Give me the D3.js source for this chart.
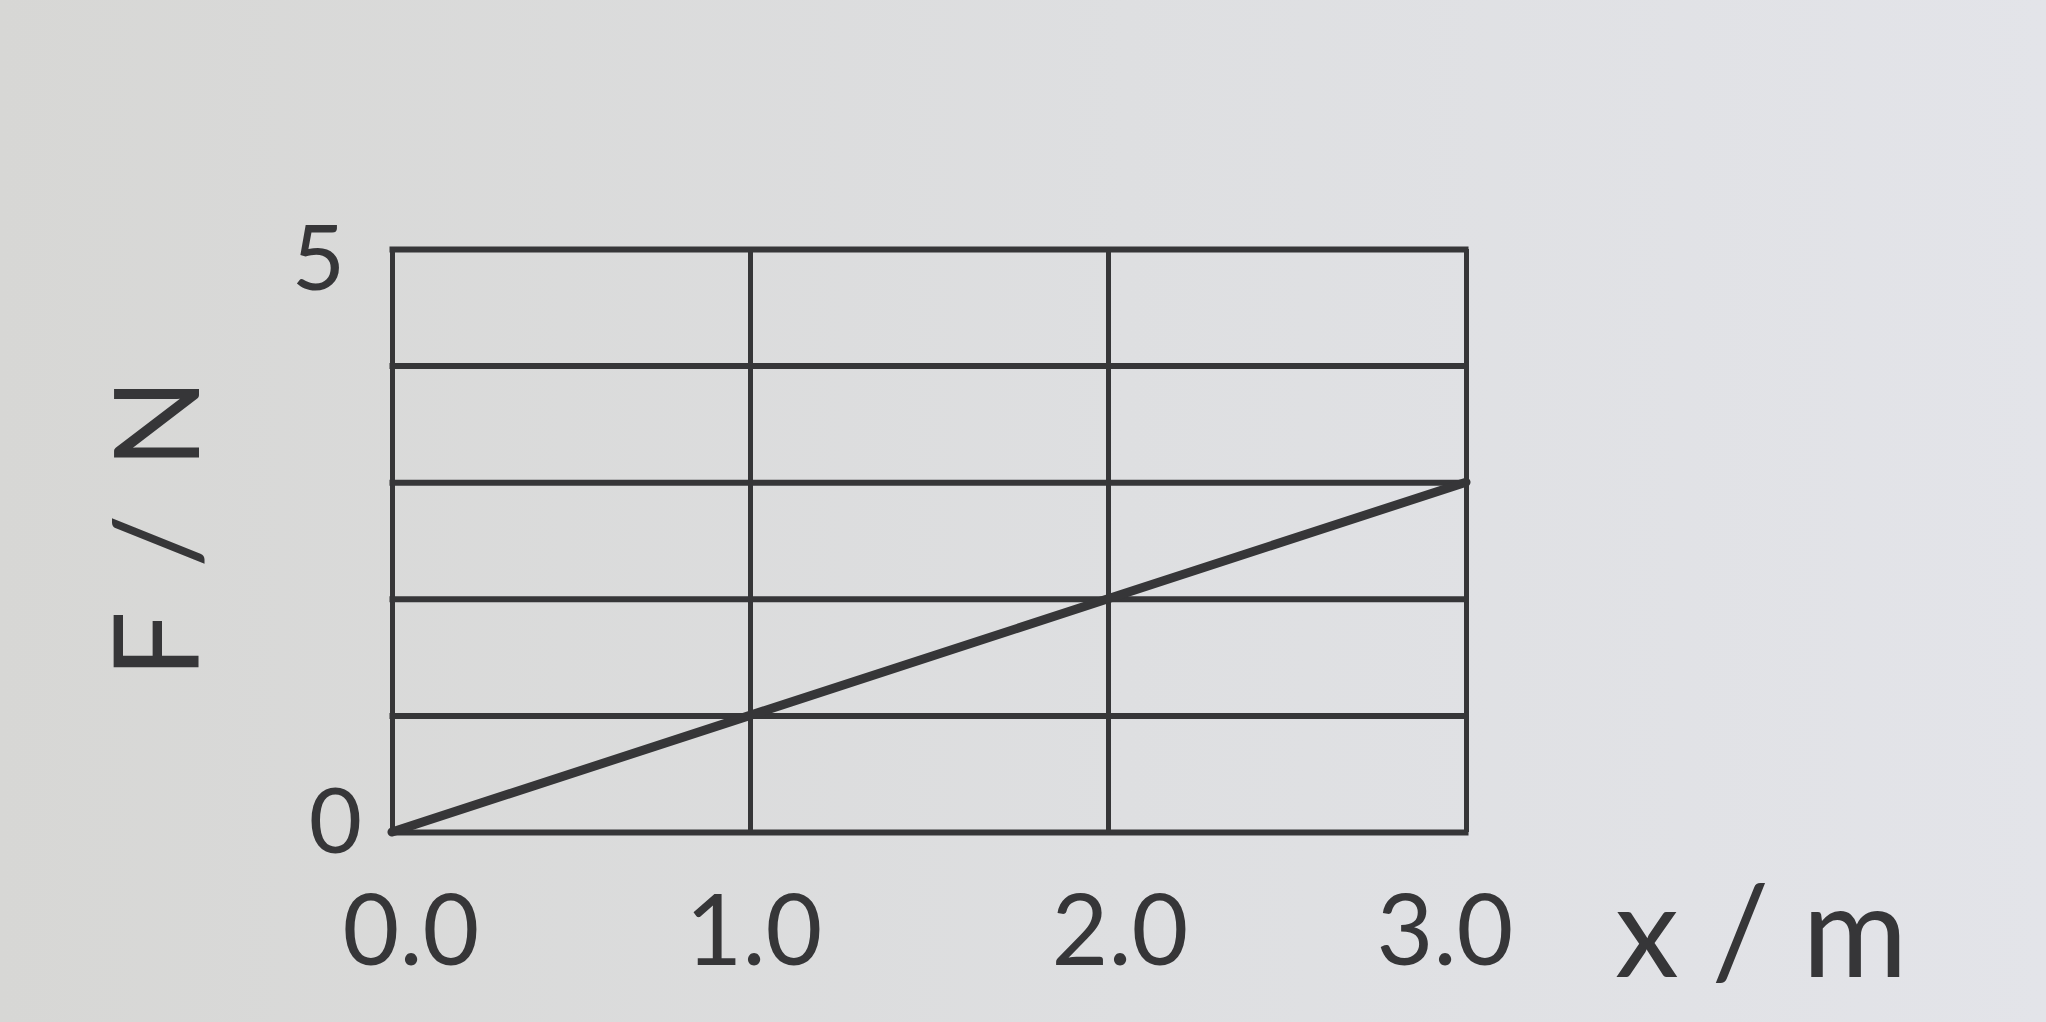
<!DOCTYPE html>
<html>
<head>
<meta charset="utf-8">
<script src="https://cdn.jsdelivr.net/npm/d3@7"></script>
<style>
  html, body { margin: 0; padding: 0; overflow: hidden; }
  svg { display: block; }
</style>
</head>
<body>
<svg id="chart" width="2046" height="1022"></svg>
<script>
// Data
const xValues = [0, 1, 2, 3];            // x / m
const fValues = [0, 1, 2, 3];            // F / N
const xTickValues = [0, 1, 2, 3];
const xTickLabels = ["0.0", "1.0", "2.0", "3.0"];
const yGridValues = [0, 1, 2, 3, 4, 5];
const yTickValues = [0, 5];
const yTickLabels = ["0", "5"];
const xAxisTitle = "x / m";
const yAxisTitle = "F / N";

const W = 2046, H = 1022;
const margin = { left: 392, right: W - 1466, top: 249, bottom: H - 832 };
const svg = d3.select("#chart");

// background (paper)
const defs = svg.append("defs");
const grad = defs.append("linearGradient").attr("id", "paper")
  .attr("x1", "0%").attr("y1", "0%").attr("x2", "100%").attr("y2", "0%");
grad.append("stop").attr("offset", "0%").attr("stop-color", "#d7d7d5");
grad.append("stop").attr("offset", "55%").attr("stop-color", "#dedfe1");
grad.append("stop").attr("offset", "100%").attr("stop-color", "#e3e4e9");
svg.append("rect").attr("width", W).attr("height", H).attr("fill", "url(#paper)");

const x = d3.scaleLinear().domain([0, 3]).range([margin.left, W - margin.right]);
const y = d3.scaleLinear().domain([0, 5]).range([H - margin.bottom, margin.top]);

const ink = "#363638";

// grid - vertical lines
const xAxisGrid = d3.axisBottom(x).tickValues(xTickValues)
  .tickSize(-(y(0) - y(5))).tickFormat("");
svg.append("g").attr("transform", `translate(0,${y(0)})`).call(xAxisGrid)
  .call(g => g.select(".domain").remove())
  .call(g => g.selectAll("line").attr("stroke", ink).attr("stroke-width", 5));

// grid - horizontal lines
const yAxisGrid = d3.axisLeft(y).tickValues(yGridValues)
  .tickSize(-(x(3) - x(0))).tickFormat("");
svg.append("g").attr("transform", `translate(${x(0)},0)`).call(yAxisGrid)
  .call(g => g.select(".domain").remove())
  .call(g => g.selectAll("line").attr("stroke", ink).attr("stroke-width", 6)
    .attr("x1", -2.5).attr("x2", x(3) - x(0) + 2.5));

// tick labels
const font = "Lato, 'Open Sans', sans-serif";
const xLabelShift = [19, 4, 12, -21];
svg.append("g").selectAll("text").data(xTickValues).join("text")
  .attr("x", (d, i) => x(d) + xLabelShift[i])
  .attr("y", 965)
  .attr("text-anchor", "middle")
  .attr("font-family", font).attr("font-size", 98)
  .attr("fill", ink)
  .text((d, i) => xTickLabels[i]);

const yLabelRight = [362, 345];
const yLabelShift = [21, 41];
svg.append("g").selectAll("text").data(yTickValues).join("text")
  .attr("x", (d, i) => yLabelRight[i])
  .attr("y", (d, i) => y(d) + yLabelShift[i])
  .attr("text-anchor", "end")
  .attr("font-family", font).attr("font-size", 92)
  .attr("fill", ink)
  .text((d, i) => yTickLabels[i]);

// axis titles
svg.append("text")
  .attr("x", 1615).attr("y", 977)
  .attr("font-family", font).attr("font-size", 128)
  .attr("fill", ink)
  .text(xAxisTitle);

svg.append("text")
  .attr("transform", "translate(199,524) rotate(-90)")
  .attr("text-anchor", "middle")
  .attr("font-family", font).attr("font-size", 118)
  .attr("fill", ink)
  .attr("letter-spacing", 8)
  .text(yAxisTitle);

// data line
const line = d3.line().x((d, i) => x(xValues[i])).y(d => y(d));
svg.append("path").datum(fValues)
  .attr("d", line)
  .attr("fill", "none")
  .attr("stroke", ink)
  .attr("stroke-width", 9)
  .attr("stroke-linecap", "round");
</script>
</body>
</html>
